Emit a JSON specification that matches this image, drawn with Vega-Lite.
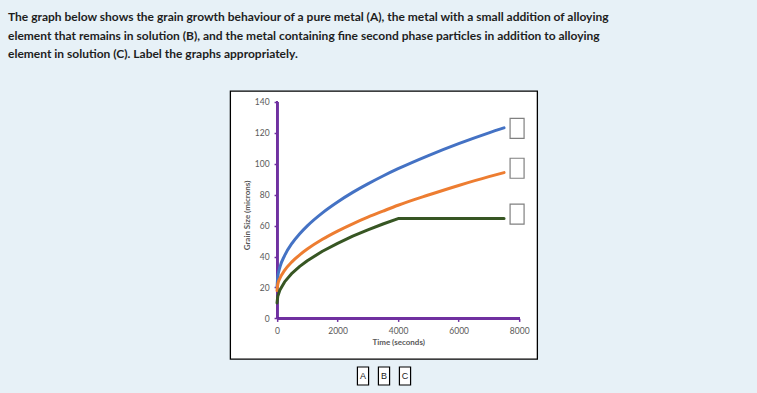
{
  "$schema": "https://vega.github.io/schema/vega-lite/v6.json",
  "background": "#e7f1f7",
  "padding": {"left": 8, "top": 11, "right": 222, "bottom": 14},
  "title": {
    "text": [
      "The graph below shows the grain growth behaviour of a pure metal (A), the metal with a small addition of alloying",
      "element that remains in solution (B), and the metal containing fine second phase particles in addition to alloying",
      "element in solution (C). Label the graphs appropriately."
    ],
    "anchor": "start",
    "frame": "group",
    "dx": -222,
    "offset": 29,
    "font": "Lato",
    "fontSize": 12,
    "fontWeight": "bold",
    "color": "#1e1e1e",
    "lineHeight": 18.5
  },
  "datasets": {
    "growth": [
      {"series": "A", "t": 0, "size": 20},
      {"series": "A", "t": 25, "size": 26.9},
      {"series": "A", "t": 100, "size": 33.4},
      {"series": "A", "t": 250, "size": 40.6},
      {"series": "A", "t": 500, "size": 48.7},
      {"series": "A", "t": 750, "size": 54.7},
      {"series": "A", "t": 1000, "size": 59.8},
      {"series": "A", "t": 1500, "size": 68.2},
      {"series": "A", "t": 2000, "size": 75.2},
      {"series": "A", "t": 2500, "size": 81.4},
      {"series": "A", "t": 3000, "size": 86.9},
      {"series": "A", "t": 3500, "size": 92.0},
      {"series": "A", "t": 4000, "size": 96.7},
      {"series": "A", "t": 5000, "size": 105.2},
      {"series": "A", "t": 6000, "size": 112.9},
      {"series": "A", "t": 7000, "size": 119.9},
      {"series": "A", "t": 7500, "size": 123.1},
      {"series": "B", "t": 0, "size": 18},
      {"series": "B", "t": 25, "size": 22.0},
      {"series": "B", "t": 100, "size": 26.1},
      {"series": "B", "t": 250, "size": 31.0},
      {"series": "B", "t": 500, "size": 36.7},
      {"series": "B", "t": 750, "size": 41.1},
      {"series": "B", "t": 1000, "size": 44.8},
      {"series": "B", "t": 1500, "size": 51.1},
      {"series": "B", "t": 2000, "size": 56.4},
      {"series": "B", "t": 2500, "size": 61.1},
      {"series": "B", "t": 3000, "size": 65.4},
      {"series": "B", "t": 3500, "size": 69.3},
      {"series": "B", "t": 4000, "size": 73.1},
      {"series": "B", "t": 5000, "size": 79.7},
      {"series": "B", "t": 6000, "size": 85.9},
      {"series": "B", "t": 7000, "size": 91.6},
      {"series": "B", "t": 7500, "size": 94.2},
      {"series": "C", "t": 0, "size": 10},
      {"series": "C", "t": 25, "size": 14.3},
      {"series": "C", "t": 100, "size": 18.6},
      {"series": "C", "t": 250, "size": 23.6},
      {"series": "C", "t": 500, "size": 29.3},
      {"series": "C", "t": 750, "size": 33.6},
      {"series": "C", "t": 1000, "size": 37.3},
      {"series": "C", "t": 1500, "size": 43.4},
      {"series": "C", "t": 2000, "size": 48.5},
      {"series": "C", "t": 2500, "size": 53.1},
      {"series": "C", "t": 3000, "size": 57.2},
      {"series": "C", "t": 3500, "size": 61.0},
      {"series": "C", "t": 4000, "size": 64.5},
      {"series": "C", "t": 5000, "size": 64.5},
      {"series": "C", "t": 6000, "size": 64.5},
      {"series": "C", "t": 7000, "size": 64.5},
      {"series": "C", "t": 7500, "size": 64.5}
    ],
    "blanks": [
      {"series": "A", "t": 7930, "size": 122.8},
      {"series": "B", "t": 7930, "size": 97.0},
      {"series": "C", "t": 7930, "size": 67.4}
    ],
    "labels": [
      {"label": "A"},
      {"label": "B"},
      {"label": "C"}
    ]
  },
  "spacing": 4,
  "center": true,
  "vconcat": [
    {
      "width": 307,
      "height": 268,
      "view": {"fill": "#ffffff", "stroke": "#000000", "strokeWidth": 1.3},
      "encoding": {
        "x": {
          "field": "t",
          "type": "quantitative",
          "scale": {"domain": [-1548, 8594], "nice": false, "zero": false},
          "axis": {
            "values": [0, 2000, 4000, 6000, 8000],
            "format": "d",
            "title": "Time (seconds)",
            "offset": -40.6,
            "titleX": 168,
            "titlePadding": 4
          }
        },
        "y": {
          "field": "size",
          "type": "quantitative",
          "scale": {"domain": [-26.2, 146.9], "nice": false, "zero": false},
          "axis": {
            "values": [0, 20, 40, 60, 80, 100, 120, 140],
            "title": "Grain Size (microns)",
            "offset": -46.9,
            "titleY": 124,
            "titlePadding": 3
          }
        }
      },
      "layer": [
        {
          "data": {"name": "growth"},
          "mark": {"type": "rule", "color": "#7030A0", "strokeWidth": 2},
          "encoding": {
            "x": {"datum": 0, "type": "quantitative"},
            "x2": {"datum": 8000},
            "y": {"datum": 0, "type": "quantitative"}
          }
        },
        {
          "data": {"name": "growth"},
          "mark": {"type": "rule", "color": "#7030A0", "strokeWidth": 2},
          "encoding": {
            "x": {"datum": 0, "type": "quantitative"},
            "y": {"datum": 0, "type": "quantitative"},
            "y2": {"datum": 140}
          }
        },
        {
          "data": {"name": "growth"},
          "transform": [{"filter": "datum.series != 'C'"}],
          "mark": {"type": "line", "interpolate": "monotone", "strokeCap": "round"},
          "encoding": {
            "color": {
              "field": "series",
              "type": "nominal",
              "scale": {"domain": ["A", "B", "C"], "range": ["#4472C4", "#ED7D31", "#375623"]},
              "legend": null
            },
            "strokeWidth": {
              "field": "series",
              "type": "nominal",
              "scale": {"domain": ["A", "B", "C"], "range": [3, 3, 4.2]},
              "legend": null
            }
          }
        },
        {
          "data": {"name": "growth"},
          "transform": [{"filter": "datum.series == 'C'"}],
          "mark": {"type": "line", "interpolate": "linear", "strokeCap": "round", "strokeJoin": "round"},
          "encoding": {
            "color": {"field": "series", "type": "nominal", "legend": null},
            "strokeWidth": {"field": "series", "type": "nominal", "legend": null}
          }
        },
        {
          "data": {"name": "blanks"},
          "mark": {
            "type": "point",
            "shape": "M-0.7,-1H0.7V1H-0.7Z",
            "size": 400,
            "filled": true,
            "fill": "#ffffff",
            "stroke": "#808080",
            "strokeWidth": 1.2,
            "opacity": 1
          }
        }
      ]
    },
    {
      "width": 63,
      "height": 18,
      "view": {"fill": null, "stroke": null},
      "data": {"name": "labels"},
      "encoding": {
        "x": {
          "field": "label",
          "type": "nominal",
          "scale": {"type": "point", "padding": 0.5},
          "axis": null
        }
      },
      "layer": [
        {
          "mark": {
            "type": "point",
            "shape": "M-0.62,-1H0.62V1H-0.62Z",
            "size": 324,
            "filled": true,
            "fill": "#ffffff",
            "stroke": "#000000",
            "strokeWidth": 1.2,
            "opacity": 1
          }
        },
        {
          "mark": {
            "type": "text",
            "font": "Liberation Sans",
            "fontSize": 9,
            "color": "#1a1a1a",
            "baseline": "middle",
            "align": "center"
          },
          "encoding": {"text": {"field": "label"}}
        }
      ]
    }
  ],
  "config": {
    "axis": {
      "domain": false,
      "grid": false,
      "ticks": true,
      "tickSize": 3,
      "tickWidth": 1.5,
      "tickColor": "#7030A0",
      "labelPadding": 5,
      "labelFont": "Lato",
      "labelFontSize": 8.5,
      "labelColor": "#595959",
      "labelFlush": false,
      "labelOverlap": false,
      "titleFont": "Lato",
      "titleFontSize": 8,
      "titleFontWeight": "bold",
      "titleColor": "#595959",
      "minExtent": 0
    }
  }
}
